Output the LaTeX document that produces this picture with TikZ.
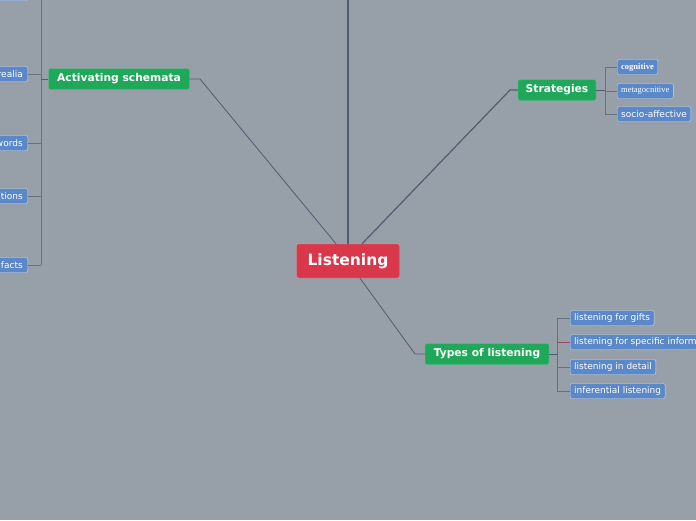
\documentclass[tikz,border=0pt]{standalone}
\usepackage{fontspec}
\setmainfont{DejaVu Sans}
\newfontfamily\serifleaf{Liberation Serif}
\definecolor{bg}{HTML}{97A0A8}
\definecolor{gr}{HTML}{1FA85A}
\definecolor{rd}{HTML}{D8384A}
\definecolor{bl}{HTML}{5A88C8}
\definecolor{ln}{HTML}{4E5D72}
\begin{document}
\begin{tikzpicture}[x=1pt,y=-1pt,
  root/.style={draw=rd!60!white,fill=rd,rounded corners=2pt,text=white,font=\bfseries\fontsize{15.5}{17}\selectfont,minimum width=103pt,minimum height=34pt,inner sep=0pt},
  main/.style={draw=gr!70!white,fill=gr,rounded corners=2pt,text=white,font=\bfseries\fontsize{10.7}{12}\selectfont,minimum height=21pt,inner sep=0pt},
  leaf/.style={draw=white!70!bl,fill=bl,rounded corners=2pt,text=white,font=\fontsize{9}{10}\selectfont,minimum height=15pt,inner xsep=4pt,inner ysep=0pt},
  conn/.style={draw=ln,line width=0.8pt},
  br/.style={draw=ln!70!bg,line width=0.6pt}]
\useasboundingbox (0,0) rectangle (696,520);
\fill[bg] (0,0) rectangle (696,520);
\clip (0,0) rectangle (696,520);
\node[root] (L) at (348,261) {Listening};
\node[main,minimum width=141pt] (A) at (119,79) {Activating schemata};
\node[main,minimum width=78pt] (S) at (557,90) {Strategies};
\node[main,minimum width=124pt] (T) at (487,354) {Types of listening};
\coordinate (top) at (348,0);
\draw[conn,line width=1.2pt] (L.north) -- (top);
\draw[conn] ([xshift=-12pt]L.north) -- (200,79) -- (A.east);
\draw[conn,line width=1.2pt] ([xshift=14pt]L.north) -- (510,90) -- (S.west);
\draw[conn] ([xshift=12pt]L.south) -- (415,354) -- (T.west);
% left leaves
\node[leaf,anchor=east,minimum width=60pt] (a0) at (28,-7) {};
\node[leaf,anchor=east,minimum width=60pt,align=right,text width=50pt] (a1) at (28,74) {realia};
\node[leaf,anchor=east,minimum width=60pt,align=right,text width=50pt] (a2) at (28,143) {words};
\node[leaf,anchor=east,minimum width=60pt,align=right,text width=50pt] (a3) at (28,196) {ations};
\node[leaf,anchor=east,minimum width=60pt,align=right,text width=50pt] (a4) at (28,265) {facts};
\draw[br] (41,0) -- (41,265);
\draw[conn] (A.west) -- (41,79);
\foreach \n in {a1,a2,a3,a4} \draw[br] (\n.east) -- (41,0 |- \n.east);
% strategies
\node[leaf,anchor=west,font=\serifleaf\bfseries\fontsize{8.5}{9}\selectfont] (s1) at (617,67) {cognitive};
\node[leaf,anchor=west,font=\serifleaf\fontsize{8.5}{9}\selectfont] (s2) at (617,91) {metagocnitive};
\node[leaf,anchor=west] (s3) at (617,114) {socio-affective};
\draw[conn] (S.east) -- (605,90);
\draw[br] (605,67) -- (605,114);
\foreach \n in {s1,s2,s3} \draw[br] (\n.west) -- (605,0 |- \n.west);
% types
\node[leaf,anchor=west] (t1) at (570,318) {listening for gifts};
\node[leaf,anchor=west] (t2) at (570,342) {listening for specific information};
\node[leaf,anchor=west] (t3) at (570,367) {listening in detail};
\node[leaf,anchor=west] (t4) at (570,391) {inferential listening};
\draw[conn] (T.east) -- (557,354);
\draw[br] (557,318) -- (557,367);
\draw[br,draw=gr!70!ln] (557,354) -- (557,391) -- (t4.west);
\draw[br] (t1.west) -- (557,318);
\draw[br,draw=rd!60!ln] (t2.west) -- (557,342);
\draw[br] (t3.west) -- (557,367);
\end{tikzpicture}
\end{document}
